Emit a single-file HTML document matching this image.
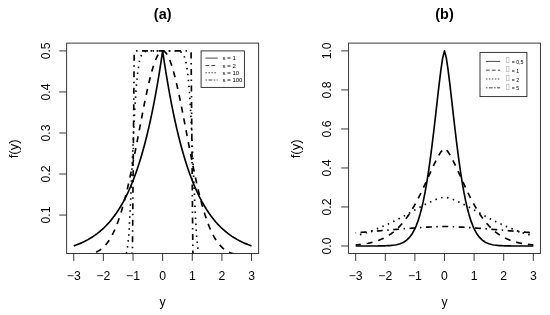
<!DOCTYPE html>
<html><head><meta charset="utf-8"><style>
html,body{margin:0;padding:0;background:#fff;}
svg{display:block;}
.t{font-family:"Liberation Sans",Arial,sans-serif;font-size:12.20px;fill:#000;}
.h{font-family:"Liberation Sans",Arial,sans-serif;font-size:14.40px;font-weight:bold;fill:#000;}
.f{font-size:13.20px;}
.tf{font-family:"DejaVu Sans",sans-serif;font-size:8.00px;fill:#a0a0a0;}
.l2{font-family:"Liberation Sans",Arial,sans-serif;font-size:5.2px;fill:#000;}
.l{font-family:"Liberation Sans",Arial,sans-serif;font-size:6.00px;fill:#000;}
</style></head><body>
<svg width="550" height="315" viewBox="0 0 550 315">
<rect width="550" height="315" fill="#fff"/>
<clipPath id="ca"><rect x="66.65" y="43.10" width="192.00" height="210.40"/></clipPath>
<g clip-path="url(#ca)">
<polyline points="73.76,245.90 75.54,245.27 77.32,244.60 79.09,243.88 80.87,243.13 82.65,242.33 84.43,241.47 86.20,240.57 87.98,239.61 89.76,238.58 91.54,237.50 93.32,236.35 95.09,235.13 96.87,233.83 98.65,232.45 100.43,230.99 102.20,229.43 103.98,227.78 105.76,226.03 107.54,224.17 109.32,222.19 111.09,220.10 112.87,217.87 114.65,215.50 116.43,212.99 118.21,210.33 119.98,207.50 121.76,204.49 123.54,201.30 125.32,197.91 127.09,194.31 128.87,190.48 130.65,186.43 132.43,182.12 134.21,177.54 135.98,172.68 137.76,167.52 139.54,162.04 141.32,156.23 143.09,150.05 144.87,143.49 146.65,136.53 148.43,129.13 150.21,121.28 151.98,112.94 153.76,104.09 155.54,94.69 157.32,84.71 159.09,74.11 160.87,62.85 162.65,50.90 164.43,62.85 166.21,74.11 167.98,84.71 169.76,94.69 171.54,104.09 173.32,112.94 175.09,121.28 176.87,129.13 178.65,136.53 180.43,143.49 182.21,150.05 183.98,156.23 185.76,162.04 187.54,167.52 189.32,172.68 191.09,177.54 192.87,182.12 194.65,186.43 196.43,190.48 198.21,194.31 199.98,197.91 201.76,201.30 203.54,204.49 205.32,207.50 207.09,210.33 208.87,212.99 210.65,215.50 212.43,217.87 214.21,220.10 215.98,222.19 217.76,224.17 219.54,226.03 221.32,227.78 223.10,229.43 224.87,230.99 226.65,232.45 228.43,233.83 230.21,235.13 231.98,236.35 233.76,237.50 235.54,238.58 237.32,239.61 239.10,240.57 240.87,241.47 242.65,242.33 244.43,243.13 246.21,243.88 247.98,244.60 249.76,245.27 251.54,245.90" fill="none" stroke="#000" stroke-width="1.65" stroke-linejoin="round" stroke-linecap="butt"/>
<polyline points="73.76,255.94 75.54,255.89 77.32,255.81 79.09,255.72 80.87,255.60 82.65,255.45 84.43,255.26 86.20,255.02 87.98,254.72 89.76,254.35 91.54,253.89 93.32,253.33 95.09,252.66 96.87,251.84 98.65,250.86 100.43,249.69 102.20,248.31 103.98,246.68 105.76,244.77 107.54,242.56 109.32,240.01 111.09,237.08 112.87,233.76 114.65,229.99 116.43,225.77 118.21,221.06 119.98,215.85 121.76,210.13 123.54,203.89 125.32,197.14 127.09,189.89 128.87,182.17 130.65,174.01 132.43,165.47 134.21,156.61 135.98,147.49 137.76,138.21 139.54,128.86 141.32,119.54 143.09,110.36 144.87,101.44 146.65,92.91 148.43,84.87 150.21,77.45 151.98,70.76 153.76,64.91 155.54,59.98 157.32,56.06 159.09,53.21 160.87,51.48 162.65,50.90 164.43,51.48 166.21,53.21 167.98,56.06 169.76,59.98 171.54,64.91 173.32,70.76 175.09,77.45 176.87,84.87 178.65,92.91 180.43,101.44 182.21,110.36 183.98,119.54 185.76,128.86 187.54,138.21 189.32,147.49 191.09,156.61 192.87,165.47 194.65,174.01 196.43,182.17 198.21,189.89 199.98,197.14 201.76,203.89 203.54,210.13 205.32,215.85 207.09,221.06 208.87,225.77 210.65,229.99 212.43,233.76 214.21,237.08 215.98,240.01 217.76,242.56 219.54,244.77 221.32,246.68 223.10,248.31 224.87,249.69 226.65,250.86 228.43,251.84 230.21,252.66 231.98,253.33 233.76,253.89 235.54,254.35 237.32,254.72 239.10,255.02 240.87,255.26 242.65,255.45 244.43,255.60 246.21,255.72 247.98,255.81 249.76,255.89 251.54,255.94" fill="none" stroke="#000" stroke-width="1.65" stroke-linejoin="round" stroke-linecap="butt" stroke-dasharray="6.02 6.02" stroke-dashoffset="1.30"/>
<polyline points="73.76,256.12 75.54,256.12 77.32,256.12 79.09,256.12 80.87,256.12 82.65,256.12 84.43,256.12 86.20,256.12 87.98,256.12 89.76,256.12 91.54,256.12 93.32,256.12 95.09,256.12 96.87,256.12 98.65,256.12 100.43,256.12 102.20,256.12 103.98,256.12 105.76,256.12 107.54,256.12 109.32,256.12 111.09,256.12 112.87,256.12 114.65,256.12 116.43,256.12 118.21,256.12 119.98,256.12 121.76,256.12 123.54,256.11 125.32,255.67 127.09,251.34 128.87,234.52 130.65,200.81 132.43,158.23 134.21,119.07 135.98,90.06 137.76,71.58 139.54,61.03 141.32,55.51 143.09,52.85 144.87,51.65 146.65,51.16 148.43,50.98 150.21,50.92 151.98,50.90 153.76,50.90 155.54,50.90 157.32,50.90 159.09,50.90 160.87,50.90 162.65,50.90 164.43,50.90 166.21,50.90 167.98,50.90 169.76,50.90 171.54,50.90 173.32,50.90 175.09,50.92 176.87,50.98 178.65,51.16 180.43,51.65 182.21,52.85 183.98,55.51 185.76,61.03 187.54,71.58 189.32,90.06 191.09,119.07 192.87,158.23 194.65,200.81 196.43,234.52 198.21,251.34 199.98,255.67 201.76,256.11 203.54,256.12 205.32,256.12 207.09,256.12 208.87,256.12 210.65,256.12 212.43,256.12 214.21,256.12 215.98,256.12 217.76,256.12 219.54,256.12 221.32,256.12 223.10,256.12 224.87,256.12 226.65,256.12 228.43,256.12 230.21,256.12 231.98,256.12 233.76,256.12 235.54,256.12 237.32,256.12 239.10,256.12 240.87,256.12 242.65,256.12 244.43,256.12 246.21,256.12 247.98,256.12 249.76,256.12 251.54,256.12" fill="none" stroke="#000" stroke-width="1.65" stroke-linejoin="round" stroke-linecap="butt" stroke-dasharray="1.50 4.50"/>
<polyline points="73.76,256.12 75.54,256.12 77.32,256.12 79.09,256.12 80.87,256.12 82.65,256.12 84.43,256.12 86.20,256.12 87.98,256.12 89.76,256.12 91.54,256.12 93.32,256.12 95.09,256.12 96.87,256.12 98.65,256.12 100.43,256.12 102.20,256.12 103.98,256.12 105.76,256.12 107.54,256.12 109.32,256.12 111.09,256.12 112.87,256.12 114.65,256.12 116.43,256.12 118.21,256.12 119.98,256.12 121.76,256.12 123.54,256.12 125.32,256.12 127.09,256.12 128.87,256.12 130.65,256.12 132.43,252.72 134.21,52.85 135.98,50.90 137.76,50.90 139.54,50.90 141.32,50.90 143.09,50.90 144.87,50.90 146.65,50.90 148.43,50.90 150.21,50.90 151.98,50.90 153.76,50.90 155.54,50.90 157.32,50.90 159.09,50.90 160.87,50.90 162.65,50.90 164.43,50.90 166.21,50.90 167.98,50.90 169.76,50.90 171.54,50.90 173.32,50.90 175.09,50.90 176.87,50.90 178.65,50.90 180.43,50.90 182.21,50.90 183.98,50.90 185.76,50.90 187.54,50.90 189.32,50.90 191.09,52.85 192.87,252.72 194.65,256.12 196.43,256.12 198.21,256.12 199.98,256.12 201.76,256.12 203.54,256.12 205.32,256.12 207.09,256.12 208.87,256.12 210.65,256.12 212.43,256.12 214.21,256.12 215.98,256.12 217.76,256.12 219.54,256.12 221.32,256.12 223.10,256.12 224.87,256.12 226.65,256.12 228.43,256.12 230.21,256.12 231.98,256.12 233.76,256.12 235.54,256.12 237.32,256.12 239.10,256.12 240.87,256.12 242.65,256.12 244.43,256.12 246.21,256.12 247.98,256.12 249.76,256.12 251.54,256.12" fill="none" stroke="#000" stroke-width="1.65" stroke-linejoin="round" stroke-linecap="butt" stroke-dasharray="1.50 4.50 6.00 4.50" stroke-dashoffset="0.70"/>
</g>
<rect x="66.65" y="43.10" width="192.00" height="210.40" fill="none" stroke="#222" stroke-width="0.90"/>
<path d="M73.76 253.50V260.90M103.39 253.50V260.90M133.02 253.50V260.90M162.65 253.50V260.90M192.28 253.50V260.90M221.91 253.50V260.90M251.54 253.50V260.90M66.65 215.07H59.25M66.65 174.03H59.25M66.65 132.99H59.25M66.65 91.94H59.25M66.65 50.90H59.25" stroke="#222" stroke-width="0.90" fill="none"/>
<text x="73.76" y="279.90" text-anchor="middle" class="t">−3</text>
<text x="103.39" y="279.90" text-anchor="middle" class="t">−2</text>
<text x="133.02" y="279.90" text-anchor="middle" class="t">−1</text>
<text x="162.65" y="279.90" text-anchor="middle" class="t">0</text>
<text x="192.28" y="279.90" text-anchor="middle" class="t">1</text>
<text x="221.91" y="279.90" text-anchor="middle" class="t">2</text>
<text x="251.54" y="279.90" text-anchor="middle" class="t">3</text>
<text transform="translate(49.65 215.07) rotate(-90)" text-anchor="middle" class="t">0.1</text>
<text transform="translate(49.65 174.03) rotate(-90)" text-anchor="middle" class="t">0.2</text>
<text transform="translate(49.65 132.99) rotate(-90)" text-anchor="middle" class="t">0.3</text>
<text transform="translate(49.65 91.94) rotate(-90)" text-anchor="middle" class="t">0.4</text>
<text transform="translate(49.65 50.90) rotate(-90)" text-anchor="middle" class="t">0.5</text>
<text x="162.65" y="306.30" text-anchor="middle" class="t">y</text>
<text transform="translate(18.25 148.80) rotate(-90)" text-anchor="middle" class="t f">f(y)</text>
<clipPath id="cb"><rect x="348.60" y="43.10" width="191.81" height="210.40"/></clipPath>
<g clip-path="url(#cb)">
<polyline points="355.70,246.00 357.48,246.00 359.25,246.00 361.03,245.99 362.80,245.99 364.58,245.99 366.36,245.99 368.13,245.99 369.91,245.99 371.68,245.98 373.46,245.97 375.24,245.96 377.01,245.95 378.79,245.93 380.56,245.91 382.34,245.88 384.12,245.83 385.89,245.77 387.67,245.69 389.44,245.58 391.22,245.44 393.00,245.25 394.77,245.01 396.55,244.69 398.32,244.27 400.10,243.73 401.88,243.05 403.65,242.18 405.43,241.07 407.20,239.69 408.98,237.96 410.76,235.82 412.53,233.18 414.31,229.97 416.08,226.08 417.86,221.41 419.64,215.86 421.41,209.32 423.19,201.68 424.96,192.87 426.74,182.82 428.52,171.50 430.29,158.93 432.07,145.20 433.84,130.48 435.62,115.04 437.40,99.32 439.17,83.90 440.95,69.62 442.72,57.74 444.50,50.90 446.28,57.74 448.05,69.62 449.83,83.90 451.60,99.32 453.38,115.04 455.16,130.48 456.93,145.20 458.71,158.93 460.48,171.50 462.26,182.82 464.04,192.87 465.81,201.68 467.59,209.32 469.36,215.86 471.14,221.41 472.92,226.08 474.69,229.97 476.47,233.18 478.24,235.82 480.02,237.96 481.80,239.69 483.57,241.07 485.35,242.18 487.12,243.05 488.90,243.73 490.68,244.27 492.45,244.69 494.23,245.01 496.00,245.25 497.78,245.44 499.56,245.58 501.33,245.69 503.11,245.77 504.88,245.83 506.66,245.88 508.44,245.91 510.21,245.93 511.99,245.95 513.76,245.96 515.54,245.97 517.32,245.98 519.09,245.99 520.87,245.99 522.64,245.99 524.42,245.99 526.20,245.99 527.97,245.99 529.75,246.00 531.52,246.00 533.30,246.00" fill="none" stroke="#000" stroke-width="1.65" stroke-linejoin="round" stroke-linecap="butt"/>
<polyline points="355.70,244.87 357.48,244.70 359.25,244.52 361.03,244.32 362.80,244.09 364.58,243.83 366.36,243.53 368.13,243.21 369.91,242.84 371.68,242.43 373.46,241.98 375.24,241.47 377.01,240.91 378.79,240.28 380.56,239.59 382.34,238.83 384.12,237.98 385.89,237.06 387.67,236.04 389.44,234.92 391.22,233.70 393.00,232.38 394.77,230.93 396.55,229.36 398.32,227.66 400.10,225.82 401.88,223.84 403.65,221.71 405.43,219.43 407.20,217.00 408.98,214.41 410.76,211.66 412.53,208.75 414.31,205.68 416.08,202.46 417.86,199.10 419.64,195.60 421.41,191.97 423.19,188.24 424.96,184.41 426.74,180.52 428.52,176.59 430.29,172.66 432.07,168.76 433.84,164.95 435.62,161.27 437.40,157.81 439.17,154.64 440.95,151.87 442.72,149.67 444.50,148.45 446.28,149.67 448.05,151.87 449.83,154.64 451.60,157.81 453.38,161.27 455.16,164.95 456.93,168.76 458.71,172.66 460.48,176.59 462.26,180.52 464.04,184.41 465.81,188.24 467.59,191.97 469.36,195.60 471.14,199.10 472.92,202.46 474.69,205.68 476.47,208.75 478.24,211.66 480.02,214.41 481.80,217.00 483.57,219.43 485.35,221.71 487.12,223.84 488.90,225.82 490.68,227.66 492.45,229.36 494.23,230.93 496.00,232.38 497.78,233.70 499.56,234.92 501.33,236.04 503.11,237.06 504.88,237.98 506.66,238.83 508.44,239.59 510.21,240.28 511.99,240.91 513.76,241.47 515.54,241.98 517.32,242.43 519.09,242.84 520.87,243.21 522.64,243.53 524.42,243.83 526.20,244.09 527.97,244.32 529.75,244.52 531.52,244.70 533.30,244.87" fill="none" stroke="#000" stroke-width="1.65" stroke-linejoin="round" stroke-linecap="butt" stroke-dasharray="5.96 5.96" stroke-dashoffset="0.85"/>
<polyline points="355.70,235.91 357.48,235.42 359.25,234.92 361.03,234.40 362.80,233.85 364.58,233.29 366.36,232.72 368.13,232.12 369.91,231.50 371.68,230.86 373.46,230.20 375.24,229.52 377.01,228.83 378.79,228.11 380.56,227.37 382.34,226.62 384.12,225.84 385.89,225.04 387.67,224.23 389.44,223.40 391.22,222.55 393.00,221.68 394.77,220.80 396.55,219.90 398.32,218.98 400.10,218.06 401.88,217.12 403.65,216.17 405.43,215.20 407.20,214.23 408.98,213.26 410.76,212.28 412.53,211.29 414.31,210.31 416.08,209.33 417.86,208.35 419.64,207.38 421.41,206.42 423.19,205.47 424.96,204.54 426.74,203.64 428.52,202.75 430.29,201.90 432.07,201.09 433.84,200.32 435.62,199.59 437.40,198.93 439.17,198.34 440.95,197.83 442.72,197.44 444.50,197.22 446.28,197.44 448.05,197.83 449.83,198.34 451.60,198.93 453.38,199.59 455.16,200.32 456.93,201.09 458.71,201.90 460.48,202.75 462.26,203.64 464.04,204.54 465.81,205.47 467.59,206.42 469.36,207.38 471.14,208.35 472.92,209.33 474.69,210.31 476.47,211.29 478.24,212.28 480.02,213.26 481.80,214.23 483.57,215.20 485.35,216.17 487.12,217.12 488.90,218.06 490.68,218.98 492.45,219.90 494.23,220.80 496.00,221.68 497.78,222.55 499.56,223.40 501.33,224.23 503.11,225.04 504.88,225.84 506.66,226.62 508.44,227.37 510.21,228.11 511.99,228.83 513.76,229.52 515.54,230.20 517.32,230.86 519.09,231.50 520.87,232.12 522.64,232.72 524.42,233.29 526.20,233.85 527.97,234.40 529.75,234.92 531.52,235.42 533.30,235.91" fill="none" stroke="#000" stroke-width="1.65" stroke-linejoin="round" stroke-linecap="butt" stroke-dasharray="1.49 4.47" stroke-dashoffset="1.55"/>
<polyline points="355.70,232.90 357.48,232.74 359.25,232.59 361.03,232.43 362.80,232.27 364.58,232.12 366.36,231.96 368.13,231.80 369.91,231.64 371.68,231.49 373.46,231.33 375.24,231.17 377.01,231.02 378.79,230.86 380.56,230.70 382.34,230.55 384.12,230.40 385.89,230.24 387.67,230.09 389.44,229.94 391.22,229.79 393.00,229.64 394.77,229.49 396.55,229.34 398.32,229.20 400.10,229.05 401.88,228.91 403.65,228.77 405.43,228.63 407.20,228.49 408.98,228.36 410.76,228.23 412.53,228.10 414.31,227.97 416.08,227.85 417.86,227.72 419.64,227.61 421.41,227.49 423.19,227.38 424.96,227.27 426.74,227.17 428.52,227.07 430.29,226.98 432.07,226.89 433.84,226.81 435.62,226.73 437.40,226.66 439.17,226.60 440.95,226.55 442.72,226.51 444.50,226.49 446.28,226.51 448.05,226.55 449.83,226.60 451.60,226.66 453.38,226.73 455.16,226.81 456.93,226.89 458.71,226.98 460.48,227.07 462.26,227.17 464.04,227.27 465.81,227.38 467.59,227.49 469.36,227.61 471.14,227.72 472.92,227.85 474.69,227.97 476.47,228.10 478.24,228.23 480.02,228.36 481.80,228.49 483.57,228.63 485.35,228.77 487.12,228.91 488.90,229.05 490.68,229.20 492.45,229.34 494.23,229.49 496.00,229.64 497.78,229.79 499.56,229.94 501.33,230.09 503.11,230.24 504.88,230.40 506.66,230.55 508.44,230.70 510.21,230.86 511.99,231.02 513.76,231.17 515.54,231.33 517.32,231.49 519.09,231.64 520.87,231.80 522.64,231.96 524.42,232.12 526.20,232.27 527.97,232.43 529.75,232.59 531.52,232.74 533.30,232.90" fill="none" stroke="#000" stroke-width="1.65" stroke-linejoin="round" stroke-linecap="butt" stroke-dasharray="1.49 4.47 5.96 4.47" stroke-dashoffset="1.10"/>
</g>
<rect x="348.60" y="43.10" width="191.81" height="210.40" fill="none" stroke="#222" stroke-width="0.90"/>
<path d="M355.70 253.50V260.90M385.30 253.50V260.90M414.90 253.50V260.90M444.50 253.50V260.90M474.10 253.50V260.90M503.70 253.50V260.90M533.30 253.50V260.90M348.60 246.00H341.20M348.60 206.98H341.20M348.60 167.96H341.20M348.60 128.94H341.20M348.60 89.92H341.20M348.60 50.90H341.20" stroke="#222" stroke-width="0.90" fill="none"/>
<text x="355.70" y="279.90" text-anchor="middle" class="t">−3</text>
<text x="385.30" y="279.90" text-anchor="middle" class="t">−2</text>
<text x="414.90" y="279.90" text-anchor="middle" class="t">−1</text>
<text x="444.50" y="279.90" text-anchor="middle" class="t">0</text>
<text x="474.10" y="279.90" text-anchor="middle" class="t">1</text>
<text x="503.70" y="279.90" text-anchor="middle" class="t">2</text>
<text x="533.30" y="279.90" text-anchor="middle" class="t">3</text>
<text transform="translate(331.30 246.00) rotate(-90)" text-anchor="middle" class="t">0.0</text>
<text transform="translate(331.30 206.98) rotate(-90)" text-anchor="middle" class="t">0.2</text>
<text transform="translate(331.30 167.96) rotate(-90)" text-anchor="middle" class="t">0.4</text>
<text transform="translate(331.30 128.94) rotate(-90)" text-anchor="middle" class="t">0.6</text>
<text transform="translate(331.30 89.92) rotate(-90)" text-anchor="middle" class="t">0.8</text>
<text transform="translate(331.30 50.90) rotate(-90)" text-anchor="middle" class="t">1.0</text>
<text x="444.50" y="306.30" text-anchor="middle" class="t">y</text>
<text transform="translate(300.20 148.80) rotate(-90)" text-anchor="middle" class="t f">f(y)</text>
<text x="162.65" y="19.00" text-anchor="middle" class="h">(a)</text>
<text x="444.50" y="19.00" text-anchor="middle" class="h">(b)</text>
<rect x="201.10" y="50.90" width="43.30" height="36.50" fill="#fff" stroke="#222" stroke-width="0.90"/>
<path d="M205.90 58.10H217.30" stroke="#000" stroke-width="0.72" stroke-linecap="round" fill="none"/>
<text x="222.60" y="60.20" class="l">s = 1</text>
<path d="M205.90 65.50H217.30" stroke="#000" stroke-width="0.72" stroke-linecap="round" fill="none" stroke-dasharray="2.98 2.98"/>
<text x="222.60" y="67.60" class="l">s = 2</text>
<path d="M205.90 72.80H217.30" stroke="#000" stroke-width="0.72" stroke-linecap="round" fill="none" stroke-dasharray="0.74 2.23"/>
<text x="222.60" y="74.90" class="l">s = 10</text>
<path d="M205.90 80.00H217.30" stroke="#000" stroke-width="0.72" stroke-linecap="round" fill="none" stroke-dasharray="0.74 2.23 2.98 2.23"/>
<text x="222.60" y="82.10" class="l">s = 100</text>
<rect x="480.00" y="52.40" width="46.90" height="44.20" fill="#fff" stroke="#222" stroke-width="0.90"/>
<path d="M486.30 61.40H499.80" stroke="#000" stroke-width="0.72" stroke-linecap="round" fill="none"/>
<text x="505.80" y="62.10" class="tf">&#x25AF;</text>
<text x="511.70" y="64.00" class="l2">= 0,5</text>
<path d="M486.30 70.20H499.80" stroke="#000" stroke-width="0.72" stroke-linecap="round" fill="none" stroke-dasharray="2.98 2.98"/>
<text x="505.80" y="70.90" class="tf">&#x25AF;</text>
<text x="511.70" y="72.80" class="l2">= 1</text>
<path d="M486.30 79.00H499.80" stroke="#000" stroke-width="0.72" stroke-linecap="round" fill="none" stroke-dasharray="0.74 2.23"/>
<text x="505.80" y="79.70" class="tf">&#x25AF;</text>
<text x="511.70" y="81.60" class="l2">= 2</text>
<path d="M486.30 87.80H499.80" stroke="#000" stroke-width="0.72" stroke-linecap="round" fill="none" stroke-dasharray="0.74 2.23 2.98 2.23"/>
<text x="505.80" y="88.50" class="tf">&#x25AF;</text>
<text x="511.70" y="90.40" class="l2">= 5</text>
</svg>
</body></html>
